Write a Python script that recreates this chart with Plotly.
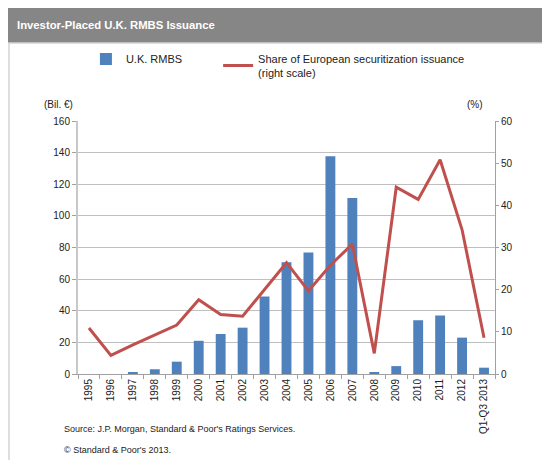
import plotly.graph_objects as go

# data
years = ["1995", "1996", "1997", "1998", "1999", "2000", "2001", "2002", "2003", "2004",
         "2005", "2006", "2007", "2008", "2009", "2010", "2011", "2012", "Q1-Q3 2013"]
uk_rmbs = [0, 0, 0.8, 3, 7.8, 21, 25.3, 29.3, 49, 70.7,
           76.8, 137.7, 111.3, 0.8, 5, 34, 37, 23, 4]
share_pct = [10.9, 4.4, 6.9, 9.3, 11.6, 17.6, 14.1, 13.7, 20, 26.4,
             19.7, 25.8, 30.8, 4.9, 44.3, 41.4, 50.8, 34.2, 8.6]

left_ticks = list(range(0, 161, 20))
right_ticks = list(range(0, 61, 10))

FONT = "Arial, Liberation Sans, sans-serif"
BLUE = "#4F81BD"
RED = "#C0504D"
GRID = "#BFBFBF"
TXT = "#222222"

fig = go.Figure()
fig.add_trace(go.Bar(x=years, y=uk_rmbs, name="U.K. RMBS", legend="legend",
                     marker=dict(color=BLUE, line=dict(width=0))))
fig.add_trace(go.Scatter(x=years, y=share_pct, yaxis="y2", mode="lines", legend="legend2",
                         name="Share of European securitization issuance<br>(right scale)",
                         line=dict(color=RED, width=3)))

leg = dict(orientation="h", y=1.302, yanchor="top", xanchor="left",
           font=dict(size=11, color=TXT), bgcolor="rgba(0,0,0,0)", itemwidth=30)

fig.update_layout(
    width=550, height=460,
    margin=dict(l=70, r=63, t=113, b=94),
    paper_bgcolor="white", plot_bgcolor="white",
    font=dict(family=FONT, size=10, color=TXT),
    bargap=0.55,
    showlegend=True,
    legend=dict(leg, x=0.019),
    legend2=dict(leg, x=0.336),
    xaxis=dict(type="category", tickangle=-90, ticks="outside", ticklen=4,
               tickcolor="#A0A0A0", tickson="boundaries", showline=True,
               linecolor="#A0A0A0", linewidth=1, showgrid=False,
               tickfont=dict(size=10, color=TXT)),
    yaxis=dict(range=[0, 160], tickvals=left_ticks, showgrid=True, gridcolor=GRID,
               gridwidth=1, showline=True, linecolor="#C8C8C8", linewidth=2,
               ticks="outside", ticklen=4, tickcolor="#A0A0A0", zeroline=False,
               tickfont=dict(size=10, color=TXT)),
    yaxis2=dict(range=[0, 60], tickvals=right_ticks, overlaying="y", side="right",
                showgrid=False, showline=True, linecolor="#A0A0A0", linewidth=1,
                ticks="outside", ticklen=3, tickcolor="#A0A0A0", zeroline=False,
                tickfont=dict(size=10, color=TXT)),
)

# header band and outer frame
fig.add_shape(type="rect", xref="paper", yref="paper", x0=-70/417, x1=(550-70)/417,
              y0=1 + (113-35)/253, y1=1 + 113/253, fillcolor="#868686",
              line=dict(width=0), layer="below")
fig.add_shape(type="rect", xref="paper", yref="paper", x0=-69/417, x1=(548-70)/417,
              y0=-(457-366)/253, y1=1 + (113-35)/253, fillcolor="rgba(0,0,0,0)",
              line=dict(color="#D4D4D4", width=1.5))

fig.add_annotation(text="<b>Investor-Placed U.K. RMBS Issuance</b>", xref="paper",
                   yref="paper", x=-63/417, y=1 + (113-17)/253, xanchor="left",
                   yanchor="middle", showarrow=False,
                   font=dict(family=FONT, size=11.3, color="white"))
fig.add_annotation(text="(Bil. €)", xref="paper", yref="paper", x=-20/417,
                   y=1 + (113-97)/253, xanchor="center", yanchor="middle",
                   showarrow=False, font=dict(size=10, color=TXT))
fig.add_annotation(text="(%)", xref="paper", yref="paper", x=(467-70)/417,
                   y=1 + (113-97)/253, xanchor="center", yanchor="middle",
                   showarrow=False, font=dict(size=10, color=TXT))
fig.add_annotation(text="Source: J.P. Morgan, Standard & Poor's Ratings Services.",
                   xref="paper", yref="paper", x=-16/417, y=-(421-366)/253,
                   xanchor="left", yanchor="middle", showarrow=False,
                   font=dict(size=9, color=TXT))
fig.add_annotation(text="© Standard & Poor's 2013.", xref="paper", yref="paper",
                   x=-16/417, y=-(442-366)/253, xanchor="left", yanchor="middle",
                   showarrow=False, font=dict(size=9, color=TXT))

fig.write_html("out.html")
